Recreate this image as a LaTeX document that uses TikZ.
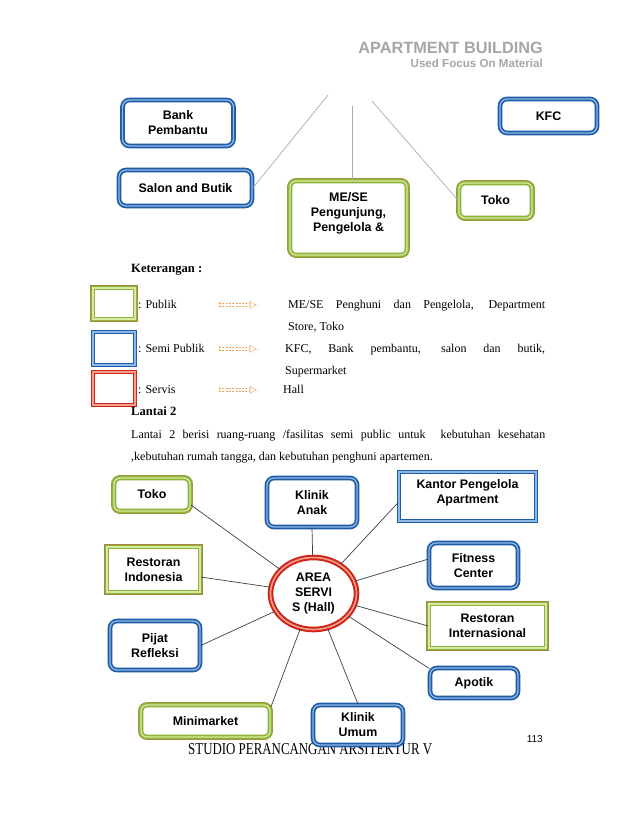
\documentclass[tikz,border=0pt]{standalone}
\usepackage{fontspec}
\setmainfont{Liberation Serif}
\newfontfamily\bxfont{Liberation Sans}
\usetikzlibrary{shapes.geometric,arrows.meta}
\definecolor{blueD}{HTML}{1F5CA6}
\definecolor{blueL}{HTML}{8DB8E6}
\definecolor{greenD}{HTML}{8FB33A}
\definecolor{greenL}{HTML}{D6EBA2}
\definecolor{greenO}{HTML}{A8873F}
\definecolor{redD}{HTML}{D02418}
\definecolor{redL}{HTML}{F3A08E}
\definecolor{grayT}{HTML}{A6A6A6}
\definecolor{topLine}{HTML}{A9A9C6}
\definecolor{orangeC}{HTML}{F0A35A}
\definecolor{linkC}{HTML}{404040}
\newcommand\legarr[2]{%
  \draw[legdash] ([yshift=1.6pt]#1) -- ([yshift=1.6pt,xshift=-8pt]#2);
  \draw[legdash] ([yshift=-1.6pt]#1) -- ([yshift=-1.6pt,xshift=-8pt]#2);
  \draw[legdash] ([yshift=3pt]#1) -- ([yshift=-3pt]#1);
  \draw[legdash, dash pattern=on 1.6pt off 0.8pt] ([xshift=-8pt,yshift=3.6pt]#2) -- ([xshift=-2pt]#2) -- ([xshift=-8pt,yshift=-3.6pt]#2) -- cycle;
  \draw[legdash, solid] ([xshift=-1pt]#2) -- (#2);}
\begin{document}
\begin{tikzpicture}[x=1pt,y=-1pt,
  bx/.style={fill=white, align=center, inner sep=1pt,
    font=\bxfont\bfseries\fontsize{12.4}{15}\selectfont},
  bluebox/.style={bx, draw=blueD, line width=1.7pt, double=blueL, double distance=1.3pt, rounded corners=7pt},
  blueboxsq/.style={bx, draw=blueD, line width=1.7pt, double=blueL, double distance=1.3pt},
  greenbox/.style={bx, preaction={draw=greenO, line width=5.8pt}, draw=greenD, line width=1.7pt, double=greenL, double distance=1.3pt, rounded corners=6pt},
  greenboxsq/.style={bx, preaction={draw=greenO, line width=5.8pt}, draw=greenD, line width=1.7pt, double=greenL, double distance=1.3pt},
  redboxsq/.style={bx, draw=redD, line width=1.7pt, double=redL, double distance=1.3pt},
  hallnode/.style={bx, ellipse, inner sep=0pt, draw=redD, line width=2pt, double=redL, double distance=1.6pt},
  topline/.style={draw=topLine, line width=0.7pt},
  link/.style={draw=linkC, line width=0.7pt},
  legdash/.style={draw=orangeC, line width=0.55pt, dash pattern=on 2pt off 1.3pt},
  serif/.style={inner sep=0pt, font=\fontsize{12}{22}\selectfont},
  serifb/.style={inner sep=0pt, font=\bfseries\fontsize{12.6}{14}\selectfont},
]
\useasboundingbox (0,0) rectangle (638,826);
\fill[white] (0,0) rectangle (638,826);

% header
\node[anchor=base east, inner sep=0pt, text=grayT, font=\bxfont\bfseries\fontsize{16.3}{18}\selectfont] (title) at (543,54) {APARTMENT BUILDING};
\node[anchor=base east, inner sep=0pt, text=grayT, font=\bxfont\bfseries\fontsize{11.6}{12}\selectfont] (subtitle) at (543,67.5) {Used Focus On Material};

% top diagram
\coordinate (tl) at (328,95);
\coordinate (tm) at (352,106);
\coordinate (tr) at (372,101);
\node[bluebox, minimum width=111pt, minimum height=46pt] (bank) at (178,123) {Bank\\Pembantu};
\node[bluebox, minimum width=97pt, minimum height=34pt] (kfc) at (548.5,116) {KFC};
\node[bluebox, minimum width=133pt, minimum height=36pt] (salon) at (185.5,188) {Salon and Butik};
\node[greenbox, minimum width=117pt, minimum height=74pt, text depth=12pt] (mese) at (348.5,218) {ME/SE\\Pengunjung,\\Pengelola \&};
\node[greenbox, minimum width=73pt, minimum height=35pt] (toko) at (495.5,200.5) {Toko};
\draw[topline] (tl) -- (salon.east);
\draw[topline] (tm) -- (tm |- mese.north);
\draw[topline] (tr) -- (toko.west);

% legend
\node[serifb, anchor=base west] (ket) at (131,272) {Keterangan :};
\node[greenboxsq, minimum width=42pt, minimum height=31pt] (lg) at (114,303.5) {};
\node[blueboxsq, minimum width=42pt, minimum height=33pt] (lb) at (114,348.5) {};
\node[redboxsq, minimum width=42pt, minimum height=33pt] (lr) at (114,388.5) {};
\node[serif, anchor=base west] (lgt) at (138,308) {: Publik};
\node[serif, anchor=base west] (lbt) at (138,352) {: Semi Publik};
\node[serif, anchor=base west] (lrt) at (138,393) {: Servis};
\coordinate (a1s) at (219,305); \coordinate (a1e) at (258,305);
\coordinate (a2s) at (219,349); \coordinate (a2e) at (258,349);
\coordinate (a3s) at (219,390); \coordinate (a3e) at (258,390);
\legarr{a1s}{a1e}
\legarr{a2s}{a2e}
\legarr{a3s}{a3e}
\node[serif, anchor=base west, text width=257pt, align=justify] (d1) at (288,308) {ME/SE Penghuni dan Pengelola, Department\linebreak Store, Toko};
\node[serif, anchor=base west, text width=260pt, align=justify] (d2) at (285,352) {KFC, Bank pembantu, salon dan butik,\linebreak Supermarket};
\node[serif, anchor=base west] (d3) at (283,393) {Hall};
\node[serifb, anchor=base west] (lt2) at (131,415) {Lantai 2};
\node[serif, anchor=base west, text width=414pt, align=justify] (para) at (131,438) {Lantai 2 berisi ruang-ruang /fasilitas semi public untuk \ kebutuhan kesehatan\linebreak ,kebutuhan rumah tangga, dan kebutuhan penghuni apartemen.};

% footer text (drawn under the boxes)
\node[anchor=base west, inner sep=0pt] (footer) at (188,754) {\resizebox{244pt}{11pt}{STUDIO PERANCANGAN ARSITEKTUR V}};
\node[anchor=base east, inner sep=0pt, font=\bxfont\fontsize{10}{12}\selectfont] (pg) at (543,742) {113};

% bottom diagram
\node[hallnode, minimum width=86pt, minimum height=72pt] (hall) at (313.5,593.5) {AREA\\SERVI\\S (Hall)};
\node[greenbox, minimum width=76pt, minimum height=33pt] (toko2) at (152,494.5) {Toko};
\node[bluebox, minimum width=90pt, minimum height=49pt] (anak) at (312,502.5) {Klinik\\Anak};
\node[blueboxsq, minimum width=137pt, minimum height=49pt, text depth=10.5pt] (kantor) at (467.5,496.5) {Kantor Pengelola\\Apartment};
\node[greenboxsq, minimum width=93pt, minimum height=45pt] (restoind) at (153.5,569.5) {Restoran\\Indonesia};
\node[bluebox, minimum width=89pt, minimum height=45pt] (fitness) at (473.5,565.5) {Fitness\\Center};
\node[greenboxsq, minimum width=117pt, minimum height=44pt] (restoint) at (487.5,626) {Restoran\\Internasional};
\node[bluebox, minimum width=90pt, minimum height=49pt] (pijat) at (155,645.5) {Pijat\\Refleksi};
\node[bluebox, minimum width=88pt, minimum height=30pt] (apotik) at (474,683) {Apotik};
\node[greenbox, minimum width=129pt, minimum height=32pt] (mini) at (205.5,721) {Minimarket};
\node[bluebox, minimum width=90pt, minimum height=40pt] (umum) at (358,725) {Klinik\\Umum};

\draw[link] (toko2.-15) -- (hall);
\draw[link] (restoind.-9) -- (hall);
\draw[link] (pijat.east) -- (hall);
\draw[link] (mini.12) -- (hall);
\draw[link] (umum.north) -- (hall);
\draw[link] (apotik.162) -- (hall);
\draw[link] (restoint.west) -- (hall);
\draw[link] (fitness.172) -- (hall);
\draw[link] (kantor.185) -- (hall);
\draw[link] (anak.south) -- (hall);
\end{tikzpicture}
\end{document}
